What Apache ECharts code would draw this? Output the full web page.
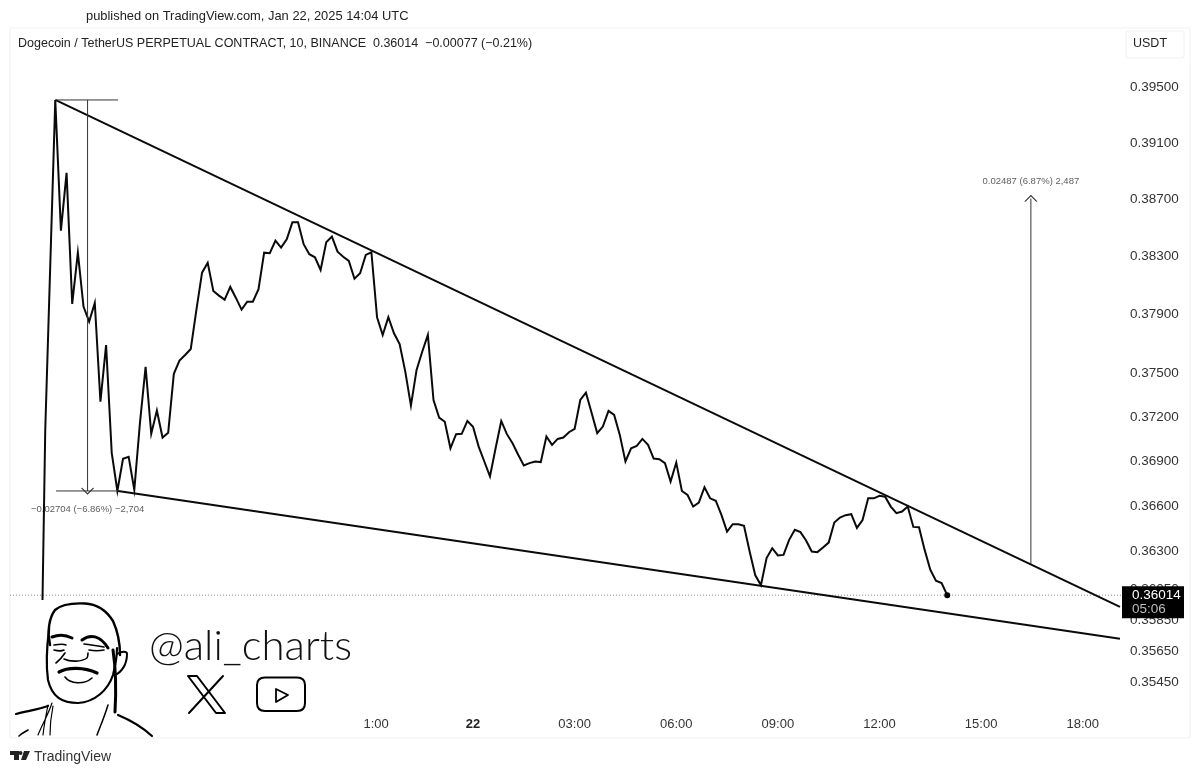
<!DOCTYPE html>
<html><head><meta charset="utf-8">
<style>html,body{margin:0;padding:0;background:#fff}#c{width:1200px;height:774px}</style>
<script src="https://cdn.jsdelivr.net/npm/echarts@6/dist/echarts.min.js"></script>
</head><body><div id="c"></div>
<script>
const closes=[.39407,.38482,.38888,.37973,.38328,.37954,.37851,.37979,.37304,.37690,
.36958,.36703,.36918,.36931,.36710,.37160,.37540,.37086,.37243,.37061,
.37093,.37493,.37583,.37622,.37663,.37931,.38189,.38257,.38062,.38030,
.38002,.38090,.38014,.37933,.37988,.37988,.38074,.38328,.38324,.38412,
.38363,.38422,.38540,.38540,.38387,.38317,.38296,.38208,.38401,.38440,
.38335,.38300,.38271,.38147,.38185,.38312,.38331,.37881,.37759,.37881,
.37770,.37697,.37508,.37277,.37520,.37644,.37759,.37315,.37196,.37168,
.36989,.37084,.37086,.37173,.37134,.37000,.36900,.36800,.36989,.37173,
.37084,.37023,.36945,.36873,.36889,.36900,.36896,.37068,.37012,.37052,
.37061,.37097,.37119,.37315,.37365,.37229,.37091,.37135,.37241,.37214,
.37079,.36900,.36989,.37005,.37052,.37012,.36920,.36916,.36889,.36766,
.36893,.36703,.36676,.36599,.36625,.36728,.36654,.36638,.36544,.36433,
.36482,.36482,.36471,.36301,.36144,.36080,.36258,.36323,.36275,.36279,
.36378,.36445,.36429,.36374,.36301,.36297,.36327,.36360,.36493,.36526,
.36542,.36548,.36457,.36510,.36654,.36654,.36671,.36665,.36599,.36555,
.36566,.36599,.36464,.36462,.36312,.36181,.36109,.36094,.36014];
const leadIn=[[-12.71,.35983],[-12.63,.37105]];
const firstHour=-12.3333, stepHours=1/6;
const upperTrend=[[-12.3333,.39407],[19.10,.35937]];
const lowerTrend=[[-10.48,.36703],[19.10,.35730]];
const downTop=[[-12.31,.39407],[-10.48,.39407]];
const downBottom=[[-12.31,.36703],[-10.48,.36703]];
const downArrow=[[-11.38,.39407],[-11.38,.36703]];
const upArrow=[[16.47,.36220],[16.47,.38707]];
const notes=[[-11.38,.36577,'\u22120.02704 (\u22126.86%) \u22122,704'],[16.47,.38831,'0.02487 (6.87%) 2,487']];
const priceTicks=[.395,.391,.387,.383,.379,.375,.372,.369,.366,.363,.3605,.3585,.3565,.3545];
const timeHours=[-2.86,0,3,6,9,12,15,18];
const timeLabels=['1:00','22','03:00','06:00','09:00','12:00','15:00','18:00'];
const lastPrice=.36014, countdown='05:06';
const xRange=[-13.67,19.16];

const priceSeries=leadIn.concat(closes.map((c,i)=>[firstHour+i*stepHours,c]));
const font='"Liberation Sans",Arial,sans-serif';
const thin=(data,extra)=>Object.assign({type:'line',data:data,symbol:'none',silent:true,animation:false,
  lineStyle:{color:'#333',width:1}},extra||{});
const bold=data=>({type:'line',data:data,symbol:'none',animation:false,lineStyle:{color:'#0a0a0a',width:2}});
const chevron=(path)=>({symbol:(v,p)=>p.dataIndex===1?path:'none',symbolSize:[12,6],showAllSymbol:true,showSymbol:true,
  itemStyle:{color:'rgba(0,0,0,0)',borderColor:'#333',borderWidth:1}});

const S={fill:'none',stroke:'#000',lineWidth:2,lineCap:'round',lineJoin:'round'};
const logoPaths=[
 ['M50 645C47 632 49 618 55 610C63 603 75 603 85 603.5C97 604 106 610 113 621C118 632 120 645 120 655',2.4],
 ['M49 630C47 645 46 665 48 680C52 697 62 703 78 703C95 702 108 690 113 675C116 663 117 655 117 648',2.2],
 ['M117 654C122 651 127 651 127 654C127 664 122 672 115 675',2],
 ['M52 637C60 634 66 635 72 638',3],['M82 640C90 634 100 635 108 648',3],
 ['M54 645C60 644 64 644 66 645M54 650C58 651 62 651 64 650',1.6],
 ['M84 644C92 645 98 646 104 647M89 650C94 651 99 651 104 650',1.6],
 ['M56 663C60 660 63 656 65 653M64 659C70 662 82 662 87 658C88 656 88 655 88 653',1.6],
 ['M59 672C68 667 84 667 97 673',3.2],['M65 677C70 684 84 685 92 678',1.6],
 ['M52 703C48 715 42 725 38 735M48 705C46 715 44 725 43 735M53 706C51 716 50 726 50 735',1.2],
 ['M108 705C104 718 100 727 97 735',1.5],
 ['M16 714C28 711 40 709 48 706',2.2],['M118 715C130 720 140 725 152 736',2.2],['M19 736C22 733 25 732 28 730',1.6],
 ['M113 650C116 670 116 695 115 712',3],
 ['M188 676H197L225 713H216ZM223 676L189 713',2],
 ['M265 677.5H297C302 677.5 305 680 305 685V703C305 708 302 711 297 711H265C260 711 257 708 257 703V685C257 680 260 677.5 265 677.5Z',2],
 ['M276 689L288 695L276 702Z',1.8]
];
const tvMark='M10 751H19V760H14V755H10ZM24 751H30L26 760H21Z';
function pathEl(d,name,style){
 echarts.graphic.registerShape(name,echarts.graphic.extendPath(d,{}));
 return {type:name,silent:true,style:style};
}
const graphics=[
 {type:'rect',silent:true,z:-1,shape:{x:10,y:28,width:1180,height:710},style:{fill:'#fff',stroke:'#f1f1f1',lineWidth:1}},
 {type:'rect',silent:true,z:-1,shape:{x:1126,y:31,width:58,height:27,r:2},style:{fill:'#fff',stroke:'#f0f0f0',lineWidth:1}},
 {type:'text',style:{text:'USDT',x:1150,y:44,align:'center',verticalAlign:'middle',font:'12.5px '+font,fill:'#222'}},
 {type:'text',style:{text:'published on TradingView.com, Jan 22, 2025 14:04 UTC',x:86,y:16,verticalAlign:'middle',font:'12.9px '+font,fill:'#222'}},
 {type:'text',style:{text:'Dogecoin / TetherUS PERPETUAL CONTRACT, 10, BINANCE  0.36014  \u22120.00077 (\u22120.21%)',x:18,y:44,verticalAlign:'middle',font:'12.5px '+font,fill:'#222'}},
 {type:'text',style:{text:'@ali_charts',x:149,y:646,verticalAlign:'middle',font:'300 42px Lato,sans-serif',fill:'#111'}},
 {type:'text',style:{text:'TradingView',x:34,y:757,verticalAlign:'middle',font:'14px '+font,fill:'#333'}},
 {type:'circle',silent:true,shape:{cx:20.5,cy:753,r:2},style:{fill:'#222'}},
 pathEl(tvMark,'tvmark',{fill:'#222'})
].concat(logoPaths.map((p,i)=>pathEl(p[0],'logo'+i,Object.assign({},S,{lineWidth:p[1]}))));

const chart=echarts.init(document.getElementById('c'),null,{renderer:'canvas'});
chart.setOption({
 animation:false,backgroundColor:'#fff',
 grid:{left:10,right:78,top:28,bottom:36,containLabel:false},
 xAxis:{type:'value',min:xRange[0],max:xRange[1],axisLine:{show:false},axisTick:{show:false},splitLine:{show:false},
  axisLabel:{inside:true,margin:7,customValues:timeHours,showMinLabel:true,showMaxLabel:true,hideOverlap:false,
   fontFamily:font,fontSize:13,color:'#333',
   formatter:v=>{const s=timeLabels[timeHours.findIndex(h=>Math.abs(h-v)<.001)];return s==='22'?'{b|22}':s;},
   rich:{b:{fontWeight:'bold',fontSize:13,color:'#222',fontFamily:font}}}},
 yAxis:{type:'log',logBase:10,position:'right',min:.35091,max:.39926,
  axisLine:{show:false},axisTick:{show:false},splitLine:{show:false},minorTick:{show:false},
  axisLabel:{customValues:priceTicks,margin:8,fontFamily:font,fontSize:13.5,color:'#333',showMinLabel:true,showMaxLabel:true,
   formatter:v=>v.toFixed(5)}},
 graphic:graphics,
 series:[
  {type:'line',data:xRange.map(x=>[x,lastPrice]),symbol:'none',silent:true,animation:false,z:1,lineStyle:{color:'#8a8a8a',width:1,type:[1,2]}},
  {type:'line',data:priceSeries,symbol:'none',animation:false,lineStyle:{color:'#0a0a0a',width:2,join:'miter'}},
  bold(upperTrend),bold(lowerTrend),
  thin(downTop),thin(downBottom),
  thin(downArrow,chevron('path://M0 0L10 10L20 0')),
  thin(upArrow,chevron('path://M0 10L10 0L20 10')),
  {type:'scatter',data:[priceSeries[priceSeries.length-1]],symbolSize:6,itemStyle:{color:'#000',opacity:1},animation:false,silent:true},
  {type:'scatter',data:notes.map(n=>[n[0],n[1]]),symbol:'circle',symbolSize:0,silent:true,animation:false,
   label:{show:true,position:'inside',fontSize:9.5,fontFamily:font,color:'#333',formatter:p=>notes[p.dataIndex][2]}},
  {type:'scatter',data:[[xRange[1],lastPrice]],clip:false,silent:true,animation:false,z:20,symbol:'rect',symbolSize:[62,32],symbolOffset:[31,7],
   itemStyle:{color:'#000',opacity:1},
   label:{show:true,position:'right',distance:-60,offset:[8,0],align:'left',fontFamily:font,fontSize:13.5,
    formatter:()=>'{a|'+lastPrice.toFixed(5)+'}\n{b|'+countdown+'}',
    rich:{a:{color:'#fff',fontSize:13.5,fontFamily:font,lineHeight:14},b:{color:'#bdbdbd',fontSize:13.5,fontFamily:font,lineHeight:14}}}}
 ]
});
</script></body></html>
